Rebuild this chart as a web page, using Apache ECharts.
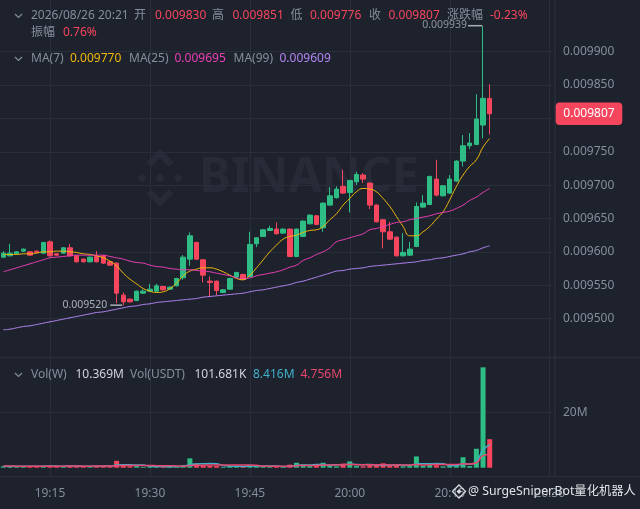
<!DOCTYPE html>
<html><head><meta charset="utf-8">
<script src="https://cdn.jsdelivr.net/npm/echarts@6/dist/echarts.min.js"></script>
<style>html,body{margin:0;padding:0;background:#1e222d;}#c{width:640px;height:509px;}</style>
</head><body><div id="c"></div>
<script>
const dateLabel = '2026/08/26';
const times = ['19:08','19:09','19:10','19:11','19:12','19:13','19:14','19:15','19:16','19:17','19:18','19:19','19:20','19:21','19:22','19:23','19:24','19:25','19:26','19:27','19:28','19:29','19:30','19:31','19:32','19:33','19:34','19:35','19:36','19:37','19:38','19:39','19:40','19:41','19:42','19:43','19:44','19:45','19:46','19:47','19:48','19:49','19:50','19:51','19:52','19:53','19:54','19:55','19:56','19:57','19:58','19:59','20:00','20:01','20:02','20:03','20:04','20:05','20:06','20:07','20:08','20:09','20:10','20:11','20:12','20:13','20:14','20:15','20:16','20:17','20:18','20:19','20:20','20:21','20:22','20:23','20:24','20:25','20:26','20:27','20:28','20:29','20:30'];
const timeTicks = ['19:15','19:30','19:45','20:00','20:15','20:30'];
const priceTicks = [0.0095,0.00955,0.0096,0.00965,0.0097,0.00975,0.0098,0.00985,0.0099];

const opens = [0.009592,0.009594,0.009597,0.009601,0.009600,0.009601,0.009598,0.009615,0.009597,0.009598,0.009606,0.009594,0.009589,0.009585,0.009593,0.009594,0.009585,0.009583,0.009535,0.009529,0.009527,0.009538,0.009541,0.009541,0.009548,0.009544,0.009549,0.009561,0.009589,0.009614,0.009588,0.009556,0.009556,0.009539,0.009544,0.009562,0.009566,0.009563,0.009612,0.009623,0.009632,0.009634,0.009628,0.009634,0.009593,0.009623,0.009642,0.009654,0.009636,0.009670,0.009681,0.009698,0.009689,0.009705,0.009715,0.009703,0.009670,0.009648,0.009630,0.009622,0.009594,0.009595,0.009608,0.009667,0.009671,0.009709,0.009684,0.009688,0.009706,0.009736,0.009759,0.009761,0.009790,0.009830];
const closes = [0.009598,0.009598,0.009600,0.009604,0.009595,0.009599,0.009614,0.009594,0.009595,0.009606,0.009594,0.009585,0.009585,0.009592,0.009585,0.009583,0.009580,0.009538,0.009525,0.009525,0.009541,0.009541,0.009544,0.009549,0.009543,0.009547,0.009560,0.009592,0.009624,0.009589,0.009565,0.009554,0.009542,0.009543,0.009560,0.009569,0.009559,0.009611,0.009621,0.009633,0.009635,0.009627,0.009634,0.009593,0.009634,0.009646,0.009655,0.009641,0.009673,0.009684,0.009694,0.009688,0.009707,0.009716,0.009709,0.009670,0.009645,0.009630,0.009619,0.009594,0.009599,0.009604,0.009668,0.009673,0.009713,0.009685,0.009699,0.009709,0.009736,0.009759,0.009763,0.009799,0.009830,0.009807];
const lows = [0.009591,0.009593,0.009596,0.009600,0.009594,0.009598,0.009597,0.009593,0.009594,0.009597,0.009593,0.009584,0.009584,0.009584,0.009584,0.009582,0.009579,0.009523,0.009520,0.009524,0.009526,0.009537,0.009540,0.009540,0.009542,0.009543,0.009548,0.009558,0.009579,0.009588,0.009554,0.009532,0.009535,0.009538,0.009543,0.009561,0.009558,0.009562,0.009607,0.009622,0.009631,0.009626,0.009627,0.009592,0.009592,0.009622,0.009641,0.009640,0.009630,0.009669,0.009680,0.009687,0.009659,0.009700,0.009703,0.009664,0.009644,0.009605,0.009618,0.009593,0.009593,0.009594,0.009607,0.009666,0.009670,0.009683,0.009683,0.009687,0.009705,0.009728,0.009754,0.009760,0.009770,0.009776];
const highs = [0.009601,0.009612,0.009601,0.009605,0.009601,0.009602,0.009615,0.009617,0.009598,0.009607,0.009612,0.009595,0.009590,0.009593,0.009601,0.009595,0.009586,0.009584,0.009539,0.009530,0.009542,0.009544,0.009552,0.009552,0.009549,0.009548,0.009561,0.009595,0.009629,0.009615,0.009589,0.009563,0.009557,0.009544,0.009561,0.009570,0.009567,0.009630,0.009622,0.009634,0.009639,0.009644,0.009635,0.009635,0.009635,0.009647,0.009656,0.009655,0.009674,0.009697,0.009698,0.009723,0.009708,0.009720,0.009718,0.009704,0.009671,0.009649,0.009645,0.009623,0.009628,0.009615,0.009674,0.009685,0.009714,0.009738,0.009700,0.009715,0.009737,0.009775,0.009778,0.009836,0.009939,0.009851];

const ma7 = [0.009596,0.009596,0.009596,0.009597,0.009597,0.009598,0.009600,0.009600,0.009601,0.009601,0.009600,0.009599,0.009597,0.009596,0.009594,0.009591,0.009586,0.009579,0.009568,0.009559,0.009552,0.009545,0.009541,0.009539,0.009540,0.009545,0.009553,0.009564,0.009571,0.009574,0.009576,0.009576,0.009574,0.009570,0.009565,0.009560,0.009558,0.009565,0.009576,0.009588,0.009600,0.009610,0.009619,0.009623,0.009625,0.009629,0.009632,0.009633,0.009638,0.009648,0.009657,0.009670,0.009680,0.009690,0.009695,0.009694,0.009690,0.009680,0.009668,0.009653,0.009638,0.009624,0.009624,0.009630,0.009638,0.009649,0.009660,0.009678,0.009698,0.009715,0.009728,0.009738,0.009757,0.009770];
const ma25 = [0.009570,0.009573,0.009576,0.009579,0.009582,0.009585,0.009588,0.009591,0.009592,0.009593,0.009594,0.009595,0.009595,0.009595,0.009595,0.009595,0.009593,0.009591,0.009589,0.009586,0.009584,0.009583,0.009580,0.009578,0.009577,0.009575,0.009574,0.009573,0.009573,0.009572,0.009571,0.009570,0.009568,0.009566,0.009564,0.009561,0.009560,0.009561,0.009564,0.009566,0.009568,0.009570,0.009573,0.009577,0.009580,0.009587,0.009591,0.009596,0.009600,0.009606,0.009615,0.009618,0.009621,0.009624,0.009627,0.009633,0.009635,0.009638,0.009641,0.009644,0.009645,0.009648,0.009650,0.009652,0.009654,0.009657,0.009659,0.009661,0.009665,0.009670,0.009677,0.009682,0.009689,0.009695];
const ma99 = [0.009483,0.009484,0.009486,0.009488,0.009489,0.009491,0.009493,0.009495,0.009497,0.009499,0.009501,0.009503,0.009505,0.009507,0.009509,0.009510,0.009512,0.009514,0.009516,0.009518,0.009519,0.009521,0.009522,0.009524,0.009525,0.009526,0.009527,0.009528,0.009529,0.009530,0.009532,0.009533,0.009534,0.009535,0.009536,0.009537,0.009538,0.009540,0.009542,0.009543,0.009545,0.009547,0.009549,0.009551,0.009554,0.009556,0.009559,0.009562,0.009565,0.009568,0.009571,0.009572,0.009574,0.009575,0.009576,0.009578,0.009579,0.009580,0.009581,0.009582,0.009583,0.009584,0.009585,0.009587,0.009588,0.009590,0.009591,0.009593,0.009595,0.009597,0.009600,0.009602,0.009606,0.009609];

const volumes = [500000,600000,500000,400000,600000,400000,700000,800000,400000,500000,600000,700000,400000,500000,600000,700000,500000,2500000,900000,500000,600000,300000,400000,500000,300000,300000,600000,1000000,3400000,1500000,900000,700000,600000,300000,600000,500000,400000,1000000,600000,500000,400000,500000,300000,1100000,1800000,1200000,600000,700000,1800000,700000,500000,1500000,2300000,600000,500000,900000,800000,1600000,700000,1000000,500000,600000,4100000,700000,1200000,900000,500000,600000,900000,3800000,600000,6900000,36500000,10369000];
const volMa5 = [550000,550000,550000,520000,520000,500000,520000,600000,580000,560000,600000,600000,520000,540000,560000,580000,580000,950000,1050000,1050000,1000000,950000,550000,460000,420000,360000,420000,540000,1100000,1350000,1450000,1500000,1400000,800000,620000,540000,480000,560000,620000,600000,580000,600000,460000,560000,820000,980000,1000000,1120000,1220000,1000000,1060000,1040000,1360000,1120000,1080000,1160000,1020000,900000,900000,1000000,920000,880000,1380000,1400000,1420000,1500000,1480000,780000,800000,1340000,1300000,2200000,6500000,8416000];
const volMa10 = [580000,580000,570000,570000,560000,560000,550000,560000,570000,570000,580000,580000,570000,570000,580000,590000,590000,750000,780000,780000,800000,780000,780000,750000,720000,700000,660000,550000,780000,880000,920000,960000,980000,960000,980000,1000000,960000,950000,850000,600000,550000,530000,520000,600000,720000,800000,800000,840000,960000,1000000,1000000,1080000,1180000,1060000,1050000,1100000,1100000,1100000,1000000,980000,1000000,980000,1150000,1000000,1050000,1200000,1200000,1200000,1200000,1400000,1380000,1800000,4400000,4756000];
const volUsdt = 101681;
const volTicks = [20000000];

const UP = '#2ebd85', DOWN = '#f6465d', GREY = '#848e9c', GRID = '#2a2e3a', BG = '#1e222d';
const C_MA7 = '#f0b90b', C_MA25 = '#eb40b5', C_MA99 = '#b185f3', C_V5 = '#3fb1ca', C_V10 = '#e8466e';
const FONT = '"Noto Sans","Noto Sans CJK SC",sans-serif';

const last = opens.length - 1;
const fmtP = v => v.toFixed(6);
const fmtM = v => (v / 1e6).toFixed(3) + 'M';
const chg = ((closes[last] - opens[last]) / opens[last] * 100).toFixed(2) + '%';
const amp = ((highs[last] - lows[last]) / opens[last] * 100).toFixed(2) + '%';

const chart = echarts.init(document.getElementById('c'), null, {renderer: 'canvas'});
const isTick = (i, v) => timeTicks.indexOf(v) >= 0;

function txt(id, text, x, y, color, size, align, z) {
  return {type: 'text', id: id, z: z == null ? 100 : z, silent: true,
    style: {text: text, x: x, y: y, fill: color, font: (size || 12) + 'px ' + FONT,
      textAlign: align || 'left', textVerticalAlign: 'middle'}};
}
function chevron(id, y) {
  return {type: 'polyline', id: id, z: 100, silent: true,
    shape: {points: [[15, y - 2], [18.5, y + 1.5], [22, y - 2]]},
    style: {stroke: GREY, lineWidth: 1.2, fill: null}};
}

const header = [
  chevron('ch1', 16),
  txt('h0', dateLabel + ' ' + times[last], 31, 16, GREY),
  txt('h1', '开', 134, 16, GREY), txt('h2', fmtP(opens[last]), 155, 16, DOWN),
  txt('h3', '高', 212, 16, GREY), txt('h4', fmtP(highs[last]), 232.5, 16, DOWN),
  txt('h5', '低', 290.5, 16, GREY), txt('h6', fmtP(lows[last]), 310, 16, DOWN),
  txt('h7', '收', 369, 16, GREY), txt('h8', fmtP(closes[last]), 388.5, 16, DOWN),
  txt('h9', '涨跌幅', 447, 16, GREY), txt('h10', chg, 490, 16, DOWN),
  txt('h11', '振幅', 31, 33, GREY), txt('h12', amp, 63, 33, DOWN),
  chevron('ch2', 59),
  txt('m1', 'MA(7)', 31, 59, GREY), txt('m2', fmtP(ma7[last]), 70, 59, C_MA7),
  txt('m3', 'MA(25)', 129, 59, GREY), txt('m4', fmtP(ma25[last]), 174.5, 59, C_MA25),
  txt('m5', 'MA(99)', 233.5, 59, GREY), txt('m6', fmtP(ma99[last]), 279.5, 59, C_MA99),
  chevron('ch3', 375),
  txt('v1', 'Vol(W)', 31, 375, GREY), txt('v2', fmtM(volumes[last]), 75.5, 375, '#d1d4dc'),
  txt('v3', 'Vol(USDT)', 130, 375, GREY), txt('v4', (volUsdt / 1000).toFixed(3) + 'K', 194.5, 375, '#d1d4dc'),
  txt('v5', fmtM(volMa5[last]), 253, 375, C_V5), txt('v6', fmtM(volMa10[last]), 300.5, 375, C_V10)
];

// big faint watermark
const WM = '#272b37';
const lc = [160, 178], ls = 29;
const P = pts => pts.map(p => [lc[0] + p[0] * ls, lc[1] + p[1] * ls]);
const watermark = [
  {type: 'polygon', id: 'w1', z: 0, silent: true, shape: {points: P([[0,-1],[0.46,-0.54],[0.3,-0.38],[0,-0.68],[-0.3,-0.38],[-0.46,-0.54]])}, style: {fill: WM}},
  {type: 'polygon', id: 'w2', z: 0, silent: true, shape: {points: P([[0,1],[0.46,0.54],[0.3,0.38],[0,0.68],[-0.3,0.38],[-0.46,0.54]])}, style: {fill: WM}},
  {type: 'polygon', id: 'w3', z: 0, silent: true, shape: {points: P([[0,-0.17],[0.17,0],[0,0.17],[-0.17,0]])}, style: {fill: WM}},
  {type: 'polygon', id: 'w4', z: 0, silent: true, shape: {points: P([[-0.62,-0.16],[-0.46,0],[-0.62,0.16],[-0.78,0]])}, style: {fill: WM}},
  {type: 'polygon', id: 'w5', z: 0, silent: true, shape: {points: P([[0.62,-0.16],[0.78,0],[0.62,0.16],[0.46,0]])}, style: {fill: WM}},
  {type: 'text', id: 'w6', z: 0, silent: true, style: {text: 'BINANCE', x: 199, y: 178, fill: WM, font: 'bold 48px ' + FONT, textAlign: 'left', textVerticalAlign: 'middle'}}
];

const frame = [
  {type: 'line', id: 'f1', z: 1, silent: true, shape: {x1: 0, y1: 357.7, x2: 640, y2: 357.7}, style: {stroke: '#2f3340', lineWidth: 1}},
  {type: 'line', id: 'f2', z: 1, silent: true, shape: {x1: 0, y1: 476.7, x2: 640, y2: 476.7}, style: {stroke: '#2f3340', lineWidth: 1}},
  {type: 'line', id: 'f3', z: 1, silent: true, shape: {x1: 555, y1: 0, x2: 555, y2: 477}, style: {stroke: '#2f3340', lineWidth: 1}}
];

const bottomMark = [
  {type: 'polygon', id: 'b1', z: 120, silent: true, shape: {points: [[459,485],[465.5,491.5],[459,498],[452.5,491.5]]}, style: {fill: null, stroke: '#d8dbe0', lineWidth: 1.3}},
  {type: 'polygon', id: 'b2', z: 120, silent: true, shape: {points: [[459,489],[461.5,491.5],[459,494],[456.5,491.5]]}, style: {fill: '#d8dbe0'}},
  txt('b3', '@ SurgeSniper.Bot量化机器人', 468, 491.5, '#dfe2e6', 12.3, 'left', 120)
];

const option = {
  backgroundColor: BG,
  animation: false,
  grid: [
    {left: 0, top: 18.35, width: 553, height: 333.5},
    {left: 0, top: 357.7, width: 553, height: 110},
    {left: 3.33, top: 0, width: 546.4, height: 477}
  ],
  xAxis: [
    {type: 'category', gridIndex: 0, data: times, boundaryGap: true, axisLine: {show: false}, axisTick: {show: false}, axisLabel: {show: false}, splitLine: {show: false}},
    {type: 'category', gridIndex: 1, data: times, boundaryGap: true, axisLine: {show: false}, axisTick: {show: false}, axisLabel: {show: false}, splitLine: {show: false}},
    {type: 'category', gridIndex: 2, data: times, boundaryGap: false, axisLine: {show: false}, axisTick: {show: false},
      axisLabel: {interval: isTick, color: GREY, fontSize: 12, fontFamily: FONT, margin: 11},
      splitLine: {show: true, interval: isTick, lineStyle: {color: GRID, width: 1}}}
  ],
  yAxis: [
    {type: 'value', gridIndex: 0, position: 'right', min: 0.00945, max: 0.00995, interval: 0.00005, scale: true,
      axisLine: {show: false}, axisTick: {show: false},
      axisLabel: {color: GREY, fontSize: 12, fontFamily: FONT, margin: 10, showMinLabel: false, showMaxLabel: false,
        formatter: v => priceTicks.some(t => Math.abs(t - v) < 1e-9) ? fmtP(v) : ''},
      splitLine: {show: true, showMinLine: false, showMaxLine: false, lineStyle: {color: GRID, width: 1}}},
    {type: 'value', gridIndex: 1, position: 'right', min: 0, max: 40000000, interval: 20000000,
      axisLine: {show: false}, axisTick: {show: false},
      axisLabel: {color: GREY, fontSize: 12, fontFamily: FONT, margin: 10, showMinLabel: false, showMaxLabel: false,
        formatter: v => volTicks.indexOf(v) >= 0 ? (v / 1e6) + 'M' : ''},
      splitLine: {show: true, showMinLine: false, showMaxLine: false, lineStyle: {color: GRID, width: 1}}},
    {type: 'value', gridIndex: 2, show: false, min: 0, max: 1}
  ],
  series: [
    {type: 'candlestick', xAxisIndex: 0, yAxisIndex: 0, barWidth: 5, z: 3,
      data: opens.map((o, i) => [o, closes[i], lows[i], highs[i]]),
      itemStyle: {color: UP, color0: DOWN, borderColor: UP, borderColor0: DOWN, borderWidth: 1}},
    {type: 'line', name: 'MA7', xAxisIndex: 0, yAxisIndex: 0, data: ma7, smooth: true, showSymbol: false, z: 4, lineStyle: {color: C_MA7, width: 1}},
    {type: 'line', name: 'MA25', xAxisIndex: 0, yAxisIndex: 0, data: ma25, smooth: true, showSymbol: false, z: 4, lineStyle: {color: C_MA25, width: 1}},
    {type: 'line', name: 'MA99', xAxisIndex: 0, yAxisIndex: 0, data: ma99, smooth: true, showSymbol: false, z: 4, lineStyle: {color: C_MA99, width: 1}},
    {type: 'bar', xAxisIndex: 1, yAxisIndex: 1, barWidth: 5, z: 3,
      data: volumes.map((v, i) => ({value: v, itemStyle: {color: closes[i] >= opens[i] ? UP : DOWN}}))},
    {type: 'line', xAxisIndex: 1, yAxisIndex: 1, data: volMa5, smooth: true, showSymbol: false, z: 4, lineStyle: {color: C_V5, width: 1.5}},
    {type: 'line', xAxisIndex: 1, yAxisIndex: 1, data: volMa10, smooth: true, showSymbol: false, z: 4, lineStyle: {color: C_V10, width: 1.5}}
  ],
  graphic: [].concat(watermark, frame, header, bottomMark)
};
chart.setOption(option);

// dynamic annotations positioned through the axes
let hi = 0, lo = 0;
highs.forEach((h, i) => { if (h > highs[hi]) hi = i; });
lows.forEach((l, i) => { if (l < lows[lo]) lo = i; });
const pHi = chart.convertToPixel({xAxisIndex: 0, yAxisIndex: 0}, [hi, highs[hi]]);
const pLo = chart.convertToPixel({xAxisIndex: 0, yAxisIndex: 0}, [lo, lows[lo]]);
const pLast = chart.convertToPixel({xAxisIndex: 0, yAxisIndex: 0}, [last, closes[last]]);
const ANN = '#aab0b9';
const dyn = [
  txt('a1', fmtP(highs[hi]), pHi[0] - 16, pHi[1] - 1, '#8f96a0', 10.5, 'right', 110),
  {type: 'line', id: 'a2', z: 110, silent: true, shape: {x1: pHi[0] - 15, y1: pHi[1], x2: pHi[0] - 1, y2: pHi[1]}, style: {stroke: ANN, lineWidth: 1.5}},
  txt('a3', fmtP(lows[lo]), pLo[0] - 16, pLo[1], ANN, 10.5, 'right', 110),
  {type: 'line', id: 'a4', z: 110, silent: true, shape: {x1: pLo[0] - 13, y1: pLo[1], x2: pLo[0] - 1, y2: pLo[1]}, style: {stroke: ANN, lineWidth: 1.5}},
  {type: 'rect', id: 'a5', z: 110, silent: true, shape: {x: 555.7, y: pLast[1] - 11.3, width: 66.6, height: 22.6, r: 4}, style: {fill: DOWN}},
  txt('a6', fmtP(closes[last]), 589, pLast[1], '#ffffff', 12, 'center', 111)
];
chart.setOption({graphic: dyn});
</script></body></html>
